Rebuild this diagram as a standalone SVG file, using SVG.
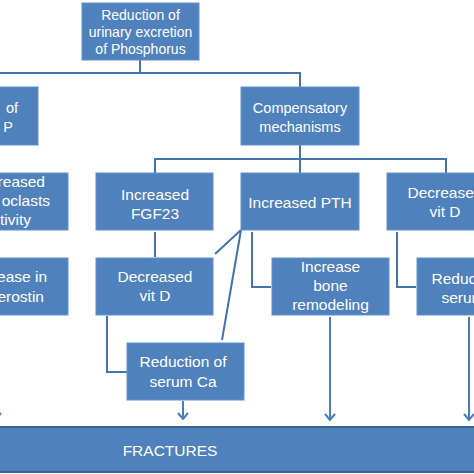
<svg xmlns="http://www.w3.org/2000/svg" width="474" height="474" viewBox="0 0 474 474">
<defs>
<style>
.box{fill:#4F81BD;stroke:#6391c9;stroke-width:1}
.t{fill:#ffffff;font-family:"Liberation Sans",Arial,sans-serif;font-size:15.5px;text-anchor:middle}
.ts{font-size:14px}
.te{text-anchor:end}
.c{fill:none;stroke:#4672ad;stroke-width:2}
.a{fill:none;stroke:#4a7ebb;stroke-width:2;marker-end:url(#ah)}
</style>
<marker id="ah" viewBox="0 0 12 12" refX="11" refY="6" markerWidth="12" markerHeight="12" markerUnits="userSpaceOnUse" orient="auto">
<path d="M5,1 L11,6 L5,11" fill="none" stroke="#4a7ebb" stroke-width="2"/>
</marker>
</defs>
<rect width="474" height="474" fill="#ffffff"/>
<g id="connectors">
<path class="c" d="M140,60 V73 M-5,73 H300 V87"/>
<path class="c" d="M300,145 V159 M155,173 V159 H446 V173 M300,159 V173"/>
<path class="c" d="M155,232 V257"/>
<path class="c" d="M107,316 V372 H127"/>
<path class="c" d="M241,230 L215,254 M241,230 L222,340"/>
<path class="c" d="M252,232 V287 H271"/>
<path class="c" d="M397,232 V287 H416"/>
<path class="a" d="M183,401 V419"/>
<path class="a" d="M330,317 V420"/>
<path class="a" d="M469,317 V420"/>
<path class="a" d="M-4,320 V419"/>
</g>
<g id="n-top"><rect class="box" x="82" y="3" width="117" height="57"/>
<text class="t ts" x="140.5" y="20">Reduction of</text><text class="t ts" x="140.5" y="37">urinary excretion</text><text class="t ts" x="140.5" y="54">of Phosphorus</text></g>
<g id="n-left1"><rect class="box" x="-80" y="87" width="118" height="58"/>
<text class="t te" x="18" y="113" style="font-size:14.5px">of</text><text class="t te" x="13" y="132" style="font-size:14.5px">P</text></g>
<g id="n-comp"><rect class="box" x="241" y="87" width="118" height="58"/>
<text class="t" x="300" y="113" style="font-size:14.5px">Compensatory</text><text class="t" x="300" y="132" style="font-size:14.5px">mechanisms</text></g>
<g id="n-osteo"><rect class="box" x="-50" y="173" width="118" height="57"/>
<text class="t te" x="45" y="187">reased</text><text class="t te" x="50" y="206">oclasts</text><text class="t te" x="31" y="225">tivity</text></g>
<g id="n-fgf"><rect class="box" x="96" y="173" width="117" height="57"/>
<text class="t" x="155" y="200">Increased</text><text class="t" x="155" y="219">FGF23</text></g>
<g id="n-pth"><rect class="box" x="241" y="173" width="118" height="57"/>
<text class="t" x="300" y="208">Increased PTH</text></g>
<g id="n-vitd2"><rect class="box" x="387" y="173" width="117" height="57"/>
<text class="t" x="445" y="198">Decreased</text><text class="t" x="445" y="217">vit D</text></g>
<g id="n-scler"><rect class="box" x="-50" y="258" width="118" height="57"/>
<text class="t te" x="47" y="282">ease in</text><text class="t te" x="44" y="302">erostin</text></g>
<g id="n-vitd1"><rect class="box" x="96" y="258" width="117" height="57"/>
<text class="t" x="155" y="282">Decreased</text><text class="t" x="155" y="301">vit D</text></g>
<g id="n-bone"><rect class="box" x="272" y="258" width="117" height="57"/>
<text class="t" x="330.5" y="272">Increase</text><text class="t" x="330.5" y="291">bone</text><text class="t" x="330.5" y="310">remodeling</text></g>
<g id="n-ca2"><rect class="box" x="417" y="258" width="117" height="57"/>
<text class="t" x="475" y="284">Reduction of</text><text class="t" x="475" y="303">serum Ca</text></g>
<g id="n-ca1"><rect class="box" x="127" y="343" width="117" height="57"/>
<text class="t" x="183" y="367">Reduction of</text><text class="t" x="183" y="387">serum Ca</text></g>
<g id="n-fract"><rect x="-5" y="427" width="484" height="45" fill="#4F81BD" stroke="#3d6594" stroke-width="2"/>
<text class="t" x="170" y="456">FRACTURES</text></g>
</svg>
